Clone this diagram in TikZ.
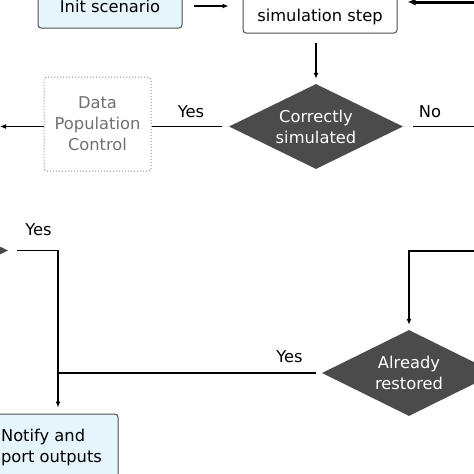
\documentclass[tikz,border=0pt]{standalone}
\usepackage{fontspec}
\setmainfont{DejaVu Sans}
\usetikzlibrary{shapes.geometric,arrows.meta}
\definecolor{boxblue}{HTML}{E6F4FC}
\definecolor{boxline}{HTML}{505050}
\definecolor{diafill}{HTML}{4B4B4B}
\definecolor{dimtext}{HTML}{707070}
\definecolor{dimline}{HTML}{8A8A8A}
\begin{document}
\begin{tikzpicture}[x=1pt,y=-1pt,
  every node/.style={font=\fontsize{16.3}{21}\selectfont},
  procbox/.style={draw=boxline, line width=1pt, rounded corners=3pt, inner xsep=0pt},
  bluebox/.style={procbox, fill=boxblue},
  whitebox/.style={procbox, fill=white},
  decision/.style={diamond, shape aspect=2, fill=diafill, text=white, inner sep=0pt,
    minimum width=174pt, minimum height=85pt, align=center},
  dimbox/.style={draw=dimline, dotted, line width=1pt, rounded corners=3pt,
    text=dimtext, align=center, minimum width=107pt, minimum height=94pt, inner sep=0pt},
  flow/.style={line width=1.5pt, draw=black},
  arr/.style={flow, -{Latex[length=6pt,width=5pt]}},
  lbl/.style={anchor=base, inner sep=0pt}
]
\useasboundingbox (0,0) rectangle (474,474);
\clip (0,0) rectangle (474,474);

% nodes
\node[bluebox, minimum width=144pt, text height=20pt, text depth=8pt, inner ysep=8pt, anchor=base] (init) at (110,12) {Init scenario};
\node[whitebox, minimum width=154pt, text height=34pt, text depth=12pt, inner ysep=0pt, anchor=base] (sim) at (320,21) {simulation step};
\node[decision] (d1) at (316,126.5) {Correctly\\simulated};
\node[dimbox] (dpc) at (97.5,124) {Data\\Population\\Control};
\node[decision] (d0) at (-79,250.5) {};
\node[decision, minimum height=86pt] (d2) at (409,373) {Already\\restored};
\node[bluebox, minimum height=66.4pt, minimum width=133pt, inner ysep=0pt, align=left] (notify) at (51.5,447.2) {Notify and\\port outputs};

% free ends
\coordinate (topin) at (474,2);
\coordinate (leftout) at (0,126.5);
\coordinate (rightout) at (474,126.5);
\coordinate (jl) at (58,250.5);
\coordinate (rin) at (474,251);
\coordinate (rc) at (409,251);

% connectors
\draw[arr, shorten <=11pt, shorten >=14pt] (init.east) -- (init.east -| sim.west);
\draw[line width=3pt, -{Latex[length=8pt,width=7pt]}, shorten >=10pt] (topin) -- (topin -| sim.east);
\draw[arr, shorten <=9pt, shorten >=5pt] (sim.south -| d1.north) -- (d1.north);
\draw[flow, shorten <=7pt] (d1.west) -- (dpc.east |- d1.west);
\draw[arr] (dpc.west |- leftout) -- (leftout);
\draw[flow, shorten <=10pt] (d1.east) -- (rightout);
\draw[arr, shorten <=9pt, shorten >=6pt] (d0.east) -- (jl) -- (jl |- notify.north);
\draw[arr, shorten >=5pt] (rin) -- (rc) -- (d2.north);
\draw[flow, shorten <=6pt] (d2.west) -- (jl |- d2.west);

% labels
\node[lbl] (y1) at (191,117) {Yes};
\node[lbl] (n1) at (430,117) {No};
\node[lbl] (y2) at (38.5,235) {Yes};
\node[lbl] (y3) at (289.5,362) {Yes};
\end{tikzpicture}
\end{document}
